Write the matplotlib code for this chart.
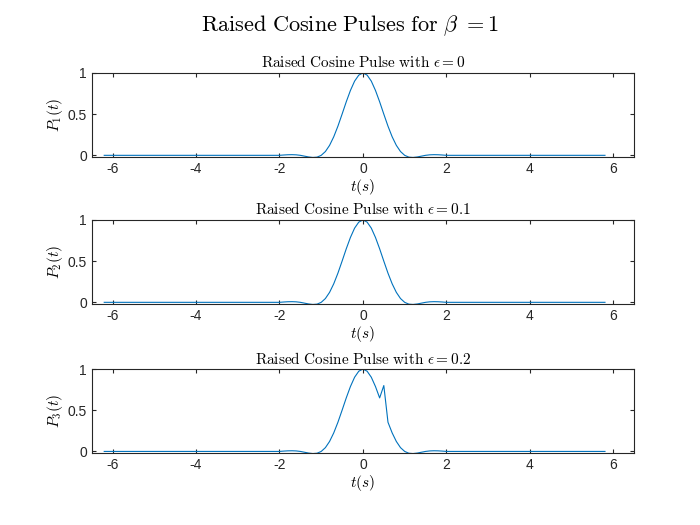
import numpy as np
import matplotlib
matplotlib.use("Agg")
import matplotlib.pyplot as plt

plt.rcParams['mathtext.fontset'] = 'cm'
plt.rcParams['font.family'] = ['Liberation Sans', 'DejaVu Sans']
plt.rcParams['axes.unicode_minus'] = False

# pulse samples for t = 0, 0.1, ..., 2.0 (symmetric)
half = [1.0, 0.974, 0.901, 0.788, 0.650, 0.5, 0.354, 0.225, 0.121, 0.046, 0.0,
        -0.022, -0.026, -0.020, -0.010, 0.0, 0.006, 0.008, 0.007, 0.004, 0.0]
# third pulse right side with a glitch around t = 0.4..0.6
half3 = [1.0, 0.974, 0.901, 0.788, 0.65, 0.80, 0.354, 0.225, 0.121, 0.046, 0.0,
         -0.022, -0.026, -0.020, -0.010, 0.0, 0.006, 0.008, 0.007, 0.004, 0.0]

t = np.round(np.arange(-6.2, 5.85, 0.1), 1)

def build(right, left=half):
    p = np.zeros_like(t)
    for i, tv in enumerate(t):
        k = int(round(abs(tv) * 10))
        if k < len(right):
            p[i] = right[k] if tv >= 0 else left[k]
    return p

p1 = build(half)
p2 = build(half)
p3 = build(half3)

eps_labels = ['0', '0.1', '0.2']
pulses = [p1, p2, p3]
bottoms = [0.701, 0.421, 0.137]

fig = plt.figure(figsize=(7, 5.25), dpi=100)
for i, (p, e, b) in enumerate(zip(pulses, eps_labels, bottoms)):
    ax = fig.add_axes([0.131, b, 0.775, 0.160])
    ax.plot(t, p, color='#0072BD', lw=0.8)
    ax.set_xlim(-6.5, 6.5)
    ax.set_ylim(-0.02, 1)
    ax.set_xticks([-6, -4, -2, 0, 2, 4, 6])
    ax.set_yticks([0, 0.5, 1])
    ax.set_yticklabels(['0', '0.5', '1'])
    ax.tick_params(direction='in', top=True, right=True, labelsize=10, length=3,
                   colors='#262626')
    for s in ax.spines.values():
        s.set_color('#262626')
    ax.set_title(r'$\mathrm{Raised\ Cosine\ Pulse\ with\ }\epsilon = ' + e + '$',
                 fontsize=11, pad=4)
    ax.set_xlabel(r'$t(s)$', fontsize=11, labelpad=1)
    ax.set_ylabel(r'$P_{%d}(t)$' % (i + 1), fontsize=11, labelpad=2)

fig.suptitle(r'$\mathrm{Raised\ Cosine\ Pulses\ for\ }\beta\ \mathrm{=}1$',
             fontsize=16, y=0.975)
fig.savefig('out.png', dpi=100)
